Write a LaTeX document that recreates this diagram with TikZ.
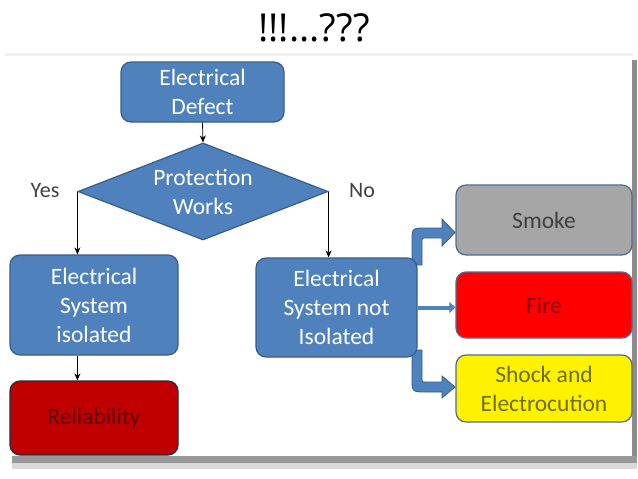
\documentclass[tikz,border=0pt]{standalone}
\usepackage{fontspec}
\setmainfont{Carlito}
\newfontfamily\titlefont{Open Sans}
\usetikzlibrary{shapes.geometric,arrows.meta,calc}
\definecolor{boxblue}{HTML}{4F81BD}
\definecolor{boxedge}{HTML}{385D8A}
\definecolor{relfill}{HTML}{C00000}
\definecolor{reltext}{HTML}{5A0000}
\definecolor{smokefill}{HTML}{A6A6A6}
\definecolor{smoketext}{HTML}{3F3F3F}
\definecolor{firetext}{HTML}{880000}
\definecolor{shocktext}{HTML}{6E6E00}
\definecolor{greyedge}{HTML}{4F6D8F}
\tikzset{
  card/.style={draw=boxedge, line width=1.2pt, rounded corners=10pt, fill=boxblue,
    text=white, align=center, inner sep=0pt,
    font=\fontsize{23.5}{29}\selectfont},
  thinarrow/.style={draw=black, line width=0.8pt, -{Stealth[length=7pt,width=6pt]}},
  blockarrow/.style={fill=boxblue, draw=boxedge, line width=0.8pt},
  answer/.style={font=\fontsize{22}{26}\selectfont, text=black!75},
}
\begin{document}
\begin{tikzpicture}[x=1pt,y=-1pt]
\useasboundingbox (0,0) rectangle (638,479);
\fill[white] (0,0) rectangle (638,479);
% panel shadow
\fill[black!6] (5,53) rectangle (633,56);
\fill[black!45] (632,60) rectangle (637,463);
\fill[black!40] (12,456) rectangle (637,463);
\fill[black!15] (12,463) rectangle (637,469);
% title
\node (title) at (314,28) {\titlefont\fontsize{38.5}{40}\selectfont !!!...???};
% nodes
\node[card, minimum width=163pt, minimum height=60pt] (defect) at (202.5,92) {Electrical\\Defect};
\node[card, shape=diamond, rounded corners=0pt, aspect=2.58, minimum width=250pt, minimum height=97pt] (dia) at (203,191.5) {Protection\\Works};
\node[card, minimum width=168pt, minimum height=100pt] (iso) at (94,305) {Electrical\\System\\isolated};
\node[card, fill=relfill, draw=black!50!boxedge, text=reltext, minimum width=168pt, minimum height=74pt] (rel) at (94,418) {Reliability};
% block arrows (drawn under the box)
\coordinate (nisNE) at (417,258);
\coordinate (nisSE) at (417,357);
\filldraw[blockarrow] ([shift={(-5,7)}]nisNE) -- ++(0,-23)
  .. controls +(0,-14) and +(-14,0) .. ++(14,-14)
  -- ++(16,0) -- ++(0,-9) -- ++(13,13.5) -- ++(-13,13.5) -- ++(0,-8) -- ++(-16,0)
  .. controls +(-4,0) and +(0,-4) .. ++(-4,4)
  -- ++(0,23) -- cycle;
\filldraw[blockarrow] ([shift={(-5,-7)}]nisSE) -- ++(0,28)
  .. controls +(0,14) and +(-14,0) .. ++(14,14)
  -- ++(16,0) -- ++(0,6) -- ++(13,-11) -- ++(-13,-11) -- ++(0,6) -- ++(-16,0)
  .. controls +(-4,0) and +(0,4) .. ++(-4,-4)
  -- ++(0,-28) -- cycle;
\node[card, minimum width=161pt, minimum height=99pt] (nis) at (336.5,307.5) {Electrical\\System not\\Isolated};
\node[card, fill=smokefill, draw=greyedge, text=smoketext, minimum width=176pt, minimum height=70pt] (smoke) at (544,220) {Smoke};
\node[card, fill=red, draw=greyedge, text=firetext, minimum width=176pt, minimum height=66pt] (fire) at (544,305) {Fire};
\node[card, fill=yellow, draw=greyedge, text=shocktext, minimum width=176pt, minimum height=67pt] (shock) at (544,388.5) {Shock and\\Electrocution};
% labels
\node[answer] (yes) at (45,191) {Yes};
\node[answer] (no) at (362,191) {No};
% connectors
\draw[thinarrow] (defect.south) -- (dia.north);
\draw[thinarrow] (dia.west) -- (dia.west |- iso.north);
\draw[thinarrow] (dia.east) -- (dia.east |- nis.north);
\draw[thinarrow] (dia.west |- iso.south) -- (dia.west |- rel.north);
\draw[draw=boxblue, line width=4pt, -{Triangle[length=6pt,width=11pt]}] (nis.east) -- (nis.east -| fire.west);
\end{tikzpicture}
\end{document}
